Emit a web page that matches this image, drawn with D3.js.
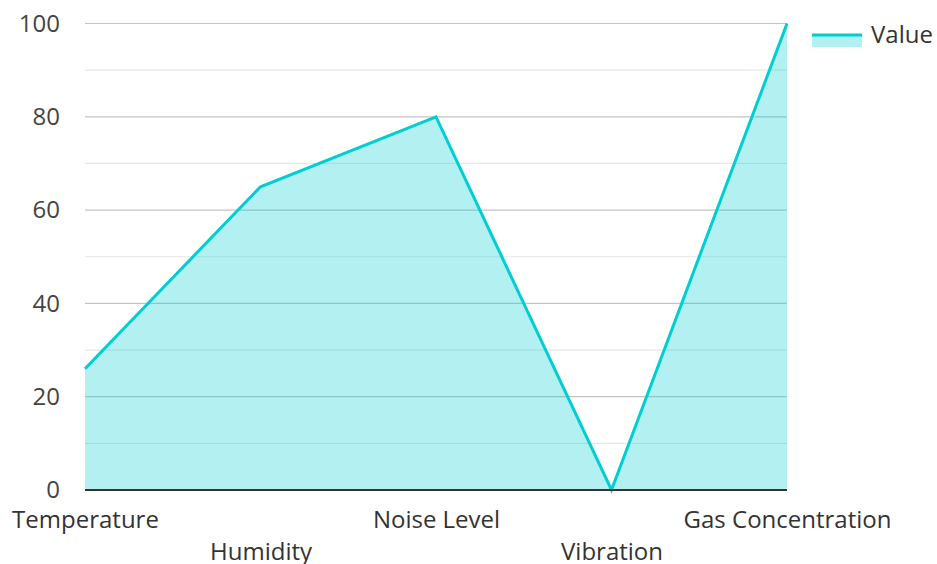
<!DOCTYPE html>
<html>
<head>
<meta charset="utf-8">
<script src="https://cdn.jsdelivr.net/npm/d3@7"></script>
<style>
  body { margin: 0; background: #fff; }
  svg { display: block; font-family: "Open Sans", "Noto Sans", sans-serif; }
</style>
</head>
<body>
<svg id="chart"></svg>
<script>
// Data
const categories = ["Temperature", "Humidity", "Noise Level", "Vibration", "Gas Concentration"];
const values = [26, 65, 80, 0, 100];
const yTicks = [0, 20, 40, 60, 80, 100];
const seriesName = "Value";

const width = 937;
const height = 564;
const margin = { top: 23.5, left: 85 };
const innerWidth = 787 - margin.left;
const innerHeight = 490 - margin.top;

const colour = "#00CED1";
const fontSize = "24px";

const svg = d3.select("#chart").attr("width", width).attr("height", height);
const g = svg.append("g").attr("transform", `translate(${margin.left},${margin.top})`);

const x = d3.scalePoint().domain(categories).range([0, innerWidth]);
const y = d3.scaleLinear().domain([0, 100]).range([innerHeight, 0]);

// Grid lines (minor every 10, major every 20)
const minor = d3.range(10, 100, 20);
g.append("g").selectAll("line")
  .data(minor)
  .join("line")
  .attr("x1", 0).attr("x2", innerWidth)
  .attr("y1", d => y(d)).attr("y2", d => y(d))
  .attr("stroke", "#e6e6e6").attr("stroke-width", 1.2);

g.append("g").selectAll("line")
  .data(yTicks.filter(d => d > 0))
  .join("line")
  .attr("x1", 0).attr("x2", innerWidth)
  .attr("y1", d => y(d)).attr("y2", d => y(d))
  .attr("stroke", "#c4c4c4").attr("stroke-width", 1.2);

// Area + line
const pts = categories.map((c, i) => ({ c, v: values[i] }));

g.append("path")
  .datum(pts)
  .attr("fill", colour)
  .attr("fill-opacity", 0.3)
  .attr("d", d3.area().x(d => x(d.c)).y0(y(0)).y1(d => y(d.v)));

g.append("path")
  .datum(pts)
  .attr("fill", "none")
  .attr("stroke", colour)
  .attr("stroke-width", 3)
  .attr("stroke-linejoin", "miter")
  .attr("d", d3.line().x(d => x(d.c)).y(d => y(d.v)));

// Baseline
g.append("line")
  .attr("x1", 0).attr("x2", innerWidth)
  .attr("y1", y(0)).attr("y2", y(0))
  .attr("stroke", "#333").attr("stroke-width", 2);

// Y axis labels
const yAxis = g.append("g")
  .call(d3.axisLeft(y).tickValues(yTicks).tickSize(0).tickPadding(25));
yAxis.select(".domain").remove();
yAxis.selectAll("text")
  .attr("fill", "#444")
  .style("font-size", fontSize)
  .style("font-family", "'Open Sans', 'Noto Sans', sans-serif");

// X axis labels (staggered)
const xAxis = g.append("g")
  .attr("transform", `translate(0,${innerHeight})`)
  .call(d3.axisBottom(x).tickSize(0).tickPadding(0));
xAxis.select(".domain").remove();
xAxis.selectAll("text")
  .attr("fill", "#333")
  .attr("dy", null)
  .attr("y", (d, i) => i % 2 === 0 ? 38 : 70)
  .style("font-size", fontSize)
  .style("font-family", "'Open Sans', 'Noto Sans', sans-serif");

// Legend
const legend = svg.append("g").attr("transform", "translate(812,35)");
legend.append("rect")
  .attr("x", 0).attr("y", 0).attr("width", 50).attr("height", 12)
  .attr("fill", colour).attr("fill-opacity", 0.3);
legend.append("line")
  .attr("x1", 0).attr("x2", 50).attr("y1", 0).attr("y2", 0)
  .attr("stroke", colour).attr("stroke-width", 3);
legend.append("text")
  .attr("x", 59).attr("y", 0).attr("dy", "0.35em")
  .attr("fill", "#333")
  .style("font-size", fontSize)
  .text(seriesName);
</script>
</body>
</html>
